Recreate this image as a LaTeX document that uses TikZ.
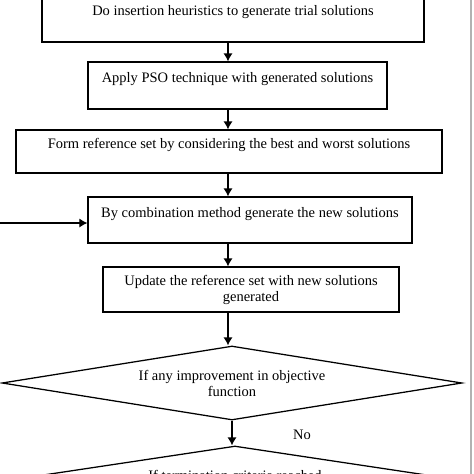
\documentclass[tikz,border=0pt]{standalone}
\usepackage{fontspec}
\setmainfont{Liberation Serif}
\usepackage{tikz}
\usetikzlibrary{shapes.geometric}
\usetikzlibrary{arrows,arrows.meta,shapes}

\begin{document}
\begin{tikzpicture}[
    stepbox/.style={draw,line width=0.9pt,rectangle,align=center,
        font=\fontsize{10.3}{11.4}\selectfont},
    testbox/.style={draw,line width=0.9pt,diamond,aspect=6.2,align=center,
        inner sep=0pt,font=\fontsize{10.3}{11.4}\selectfont},
    flow/.style={line width=0.9pt,-{Latex[length=2mm,width=2.3mm]}}]
\fill[white] (0,0) rectangle (11.85,-11.85);
\useasboundingbox (0,0) rectangle (11.85,-11.85);
\clip (0,0) rectangle (11.85,-11.85);
\coordinate (spine) at (5.7,0);

\node[stepbox,minimum width=9.55cm,minimum height=1.175cm] at (5.825,-0.4625) (init)
    {Do insertion heuristics to generate trial solutions\\~};
\node[stepbox,minimum width=7.475cm,minimum height=1.175cm] at (5.9375,-2.1375) (pso)
    {Apply PSO technique with generated solutions\\~};
\node[stepbox,minimum width=10.65cm,minimum height=1.075cm] at (5.725,-3.7875) (refset)
    {Form reference set by considering the best and worst solutions\\~};
\node[stepbox,minimum width=8.1cm,minimum height=1.15cm] at (6.25,-5.5) (combine)
    {By combination method generate the new solutions\\~};
\node[stepbox,minimum width=7.4cm,minimum height=1.125cm] at (6.275,-7.2375) (update)
    {Update the reference set with new solutions\\generated};

\node[testbox,minimum width=11.5cm,minimum height=1.85cm] at (5.8,-9.575) (improve)
    {If any improvement in objective\\function};
\node[testbox,minimum width=12.25cm,minimum height=1.85cm] at (5.875,-12.075) (stop)
    {If termination criteria reached\\~};

\draw [flow] (init.south -| spine) -- (pso.north -| spine);
\draw [flow] (pso.south -| spine) -- (refset.north -| spine);
\draw [flow] (refset.south -| spine) -- (combine.north -| spine);
\draw [flow] (combine.south -| spine) -- (update.north -| spine);
\draw [flow] (update.south -| spine) -- (improve.north -| spine);
\draw [flow] (improve.south) -- (improve.south |- stop.north);
\node[font=\fontsize{10.3}{11.4}\selectfont] at (7.55,-10.875) (no) {No};

\coordinate (loop) at (0,-5.575);
\draw [flow] (loop) -- (loop -| combine.west);

% page edge of the scan
\draw[gray!60,line width=1pt] (11.775,0) -- (11.775,-11.85);
\end{tikzpicture}
\end{document}
